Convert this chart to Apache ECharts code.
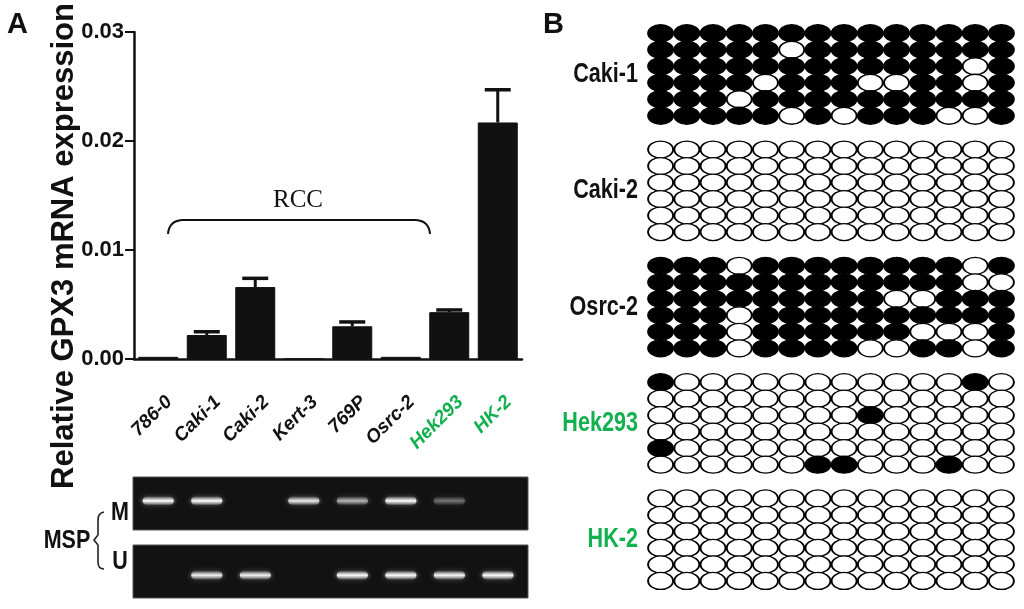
<!DOCTYPE html>
<html><head><meta charset="utf-8">
<script src="https://cdn.jsdelivr.net/npm/echarts@6/dist/echarts.min.js"></script>
<style>html,body{margin:0;padding:0;background:#fff}#c{width:1024px;height:609px}</style>
</head><body><div id="c"></div>
<script>
// ---------- data ----------
const cellLines = ['786-0','Caki-1','Caki-2','Kert-3','769P','Osrc-2','Hek293','HK-2'];
const normalLines = ['Hek293','HK-2'];
const expression = [0.0002, 0.0022, 0.0066, 0, 0.0030, 0.0002, 0.0043, 0.0217];
const expressionErr = [0, 0.0003, 0.0008, 0, 0.0004, 0, 0.0002, 0.0030];
const yTicks = [0, 0.01, 0.02, 0.03];
const mspM = [1.0, 1.0, 0, 0.85, 0.55, 1.0, 0.3, 0];
const mspU = [0, 0.9, 0.9, 0, 1.0, 1.0, 0.95, 1.0];
const bspLines = ['Caki-1','Caki-2','Osrc-2','Hek293','HK-2'];
const bspCaki1 = ['11111111111111','11111011111111','11111111111101','11110111001101','11101111111111','11111010111001'];
const bspCaki2 = ['00000000000000','00000000000000','00000000000000','00000000000000','00000000000000','00000000000000'];
const bspOsrc2 = ['11101111111101','11111111111100','11111111100111','11101111111111','11101111110001','11101111001101'];
const bspHek293 = ['10000000000010','00000000000000','00000000100000','00000000000000','10000000000000','00000011000100'];
const bspHK2 = ['00000000000000','00000000000000','00000000000000','00000000000000','00000000000000','00000000000000'];
const bspPatterns = [bspCaki1, bspCaki2, bspOsrc2, bspHek293, bspHK2];

// ---------- chart ----------
const GREEN = '#12b04f';
const INK = '#111';
const SANS = '"Liberation Sans",Arial,sans-serif';
const chart = echarts.init(document.getElementById('c'), null, {renderer:'canvas'});

const grids = [
  {left:134, top:32, width:388, height:327},
  {left:133, top:477, width:395, height:53, show:true, backgroundColor:'#121212', borderColor:'#555', borderWidth:1},
  {left:133, top:545, width:395, height:53, show:true, backgroundColor:'#121212', borderColor:'#555', borderWidth:1}
];
const gelMin = -0.52, gelMax = 7.62;
const xAxes = [
  {gridIndex:0, type:'category', data:cellLines,
   axisLine:{lineStyle:{color:INK,width:2.5}},
   axisTick:{alignWithLabel:true,length:10,lineStyle:{color:INK,width:2}},
   axisLabel:{show:false}},
  {gridIndex:1, type:'value', min:gelMin, max:gelMax, show:false},
  {gridIndex:2, type:'value', min:gelMin, max:gelMax, show:false}
];
const yAxes = [
  {gridIndex:0, type:'value', min:yTicks[0], max:yTicks[yTicks.length-1], interval:0.01,
   axisLine:{show:true,lineStyle:{color:INK,width:2.5}},
   axisTick:{show:true,length:9,lineStyle:{color:INK,width:2}},
   splitLine:{show:false},
   axisLabel:{margin:10, fontSize:22, fontWeight:'bold', fontFamily:SANS, color:INK, formatter:v=>v.toFixed(2)}},
  {gridIndex:1, type:'value', min:0, max:1, show:false},
  {gridIndex:2, type:'value', min:0, max:1, show:false}
];

const bandGrad = new echarts.graphic.LinearGradient(0,0,0,1,[
  {offset:0,color:'rgba(160,160,160,0.4)'},{offset:0.5,color:'#ffffff'},{offset:1,color:'rgba(160,160,160,0.4)'}]);
function bandRenderer(yPos){
  return function(params, api){
    const inten = api.value(1);
    if (!(inten > 0)) return null;
    const c = api.coord([api.value(0), yPos]);
    const w = api.size([0.64, 0])[0];
    const h = 8;
    return {type:'rect', shape:{x:c[0]-w/2, y:c[1]-h/2, width:w, height:h, r:4},
      style:{fill:bandGrad, opacity:inten, shadowBlur:5, shadowColor:'rgba(255,255,255,0.7)'}};
  };
}

const series = [
  {type:'bar', xAxisIndex:0, yAxisIndex:0, data:expression, barWidth:40,
   itemStyle:{color:INK, borderColor:INK, borderWidth:1}, z:2},
  {type:'custom', xAxisIndex:0, yAxisIndex:0,
   data:expression.map((v,i)=>[i, v, expressionErr[i]]),
   renderItem:function(params, api){
     const e = api.value(2); if (!(e>0)) return null;
     const x = api.value(0), v = api.value(1);
     const base = api.coord([x, v]), top = api.coord([x, v+e]);
     return {type:'group', children:[
       {type:'line', shape:{x1:base[0],y1:base[1],x2:top[0],y2:top[1]}, style:{stroke:INK,lineWidth:3}},
       {type:'line', shape:{x1:top[0]-13,y1:top[1],x2:top[0]+13,y2:top[1]}, style:{stroke:INK,lineWidth:3.5}}
     ]};
   }, z:3},
  {type:'custom', xAxisIndex:1, yAxisIndex:1, data:mspM.map((v,i)=>[i,v]), renderItem:bandRenderer(0.55)},
  {type:'custom', xAxisIndex:2, yAxisIndex:2, data:mspU.map((v,i)=>[i,v]), renderItem:bandRenderer(0.43)}
];

const bracketStyle = {stroke:INK, lineWidth:2, fill:null};
const mspStyle = {stroke:'#222', lineWidth:1.6, fill:null};
const graphics = [
  {type:'text', x:7, y:10, style:{text:'A', font:'bold 29px '+SANS, fill:INK}},
  {type:'text', x:543, y:10, style:{text:'B', font:'bold 29px '+SANS, fill:INK}},
  {type:'text', x:64, y:246, rotation:Math.PI/2,
   style:{text:'Relative GPX3 mRNA expression', font:'bold 31px '+SANS, fill:INK, textAlign:'center', textVerticalAlign:'middle'}},
  {type:'text', x:298, y:200, style:{text:'RCC', font:'25px "Liberation Serif","Times New Roman",serif', fill:INK, textAlign:'center', textVerticalAlign:'middle'}},
  {type:'bezierCurve', shape:{x1:168,y1:234,cpx1:169,cpy1:221,x2:182,y2:220}, style:bracketStyle},
  {type:'line', shape:{x1:182,y1:220,x2:416,y2:220}, style:bracketStyle},
  {type:'bezierCurve', shape:{x1:416,y1:220,cpx1:429,cpy1:221,x2:430,y2:234}, style:bracketStyle},
  {type:'text', x:67, y:541, scaleX:0.86, style:{text:'MSP', font:'bold 25px '+SANS, fill:INK, textAlign:'center', textVerticalAlign:'middle'}},
  {type:'text', x:120, y:513, scaleX:0.86, style:{text:'M', font:'bold 25px '+SANS, fill:INK, textAlign:'center', textVerticalAlign:'middle'}},
  {type:'text', x:120, y:562, scaleX:0.86, style:{text:'U', font:'bold 25px '+SANS, fill:INK, textAlign:'center', textVerticalAlign:'middle'}},
  {type:'bezierCurve', shape:{x1:104,y1:512,cpx1:98,cpy1:513,x2:98,y2:520}, style:mspStyle},
  {type:'line', shape:{x1:98,y1:520,x2:98,y2:535}, style:mspStyle},
  {type:'polyline', shape:{points:[[98,535],[94,540],[98,545]]}, style:mspStyle},
  {type:'line', shape:{x1:98,y1:545,x2:98,y2:562}, style:mspStyle},
  {type:'bezierCurve', shape:{x1:98,y1:562,cpx1:98,cpy1:569,x2:104,y2:569}, style:mspStyle}
];

// Panel B methylation grids
const cols = Array.from({length:14},(_,i)=>i);
const rows = Array.from({length:6},(_,i)=>i);
bspPatterns.forEach((pat, g)=>{
  const gi = grids.length;
  const top = 25 + g*116.3;
  grids.push({left:647.5, top:top, width:367, height:99});
  xAxes.push({gridIndex:gi, type:'category', data:cols, show:false});
  yAxes.push({gridIndex:gi, type:'category', data:rows, inverse:true, show:false});
  const data = [];
  pat.forEach((rowStr, r)=>{ rowStr.split('').forEach((ch, c)=>{ data.push([c, r, +ch]); }); });
  series.push({type:'scatter', xAxisIndex:gi, yAxisIndex:gi, data:data, symbol:'circle', symbolSize:[25,17],
    itemStyle:{color:(p)=> p.value[2] ? '#000' : '#fff', borderColor:'#000', borderWidth:1.6, opacity:1},
    emphasis:{disabled:true}});
  const name = bspLines[g];
  graphics.push({type:'text', x:638, y:top+49.5, scaleX:0.8,
    style:{text:name, font:'bold 27px '+SANS, fill: normalLines.indexOf(name)>=0 ? GREEN : INK, textAlign:'right', textVerticalAlign:'middle'}});
});

const option = {
  animation:false,
  backgroundColor:'#fff',
  grid:grids, xAxis:xAxes, yAxis:yAxes, series:series, graphic:graphics
};
chart.setOption(option);

// rotated category labels, placed from the category axis scale
const catLabels = cellLines.map((name, i)=>{
  const p = chart.convertToPixel({xAxisIndex:0, yAxisIndex:0}, [i, 0]);
  return {type:'text', x:p[0]+11, y:p[1]+40, rotation:Math.PI/4,
    style:{text:name, font:'italic bold 19px '+SANS, fill: normalLines.indexOf(name)>=0 ? GREEN : INK,
      textAlign:'right', textVerticalAlign:'middle'}};
});
chart.setOption({graphic: graphics.concat(catLabels)});
</script></body></html>
